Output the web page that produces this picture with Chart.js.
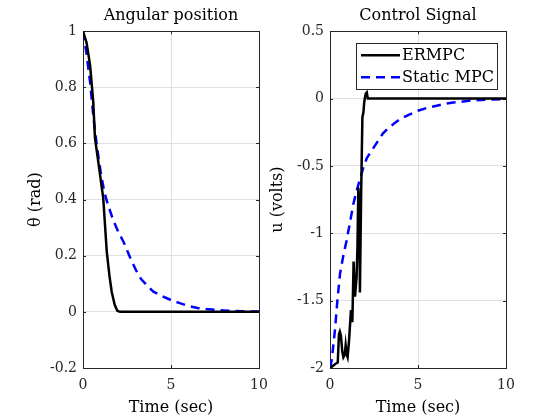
<!DOCTYPE html>
<html>
<head>
<meta charset="utf-8">
<script src="https://cdn.jsdelivr.net/npm/chart.js@4.4.1/dist/chart.umd.min.js"></script>
<style>
  html, body { margin: 0; padding: 0; background: #fff; }
  #wrap { position: relative; width: 560px; height: 420px; overflow: hidden; }
  #thetaChart { position: absolute; left: 0; top: 0; }
  #uChart { position: absolute; left: 262px; top: 0; }
</style>
</head>
<body>
<div id="wrap">
  <canvas id="thetaChart" width="280" height="420"></canvas>
  <canvas id="uChart" width="298" height="420"></canvas>
</div>
<script>
// --- data ---
const xTicks = [0, 5, 10];
const xTickLabels = ['0', '5', '10'];

const thetaTicks = [-0.2, 0, 0.2, 0.4, 0.6, 0.8, 1];
const thetaTickLabels = ['-0.2', '0', '0.2', '0.4', '0.6', '0.8', '1'];
const uTicks = [-2, -1.5, -1, -0.5, 0, 0.5];
const uTickLabels = ['-2', '-1.5', '-1', '-0.5', '0', '0.5'];

// angular position, ERMPC
const thetaErmpcTime = [0, 0.2, 0.4, 0.58, 0.68, 0.9, 1.15, 1.35, 1.5, 1.63, 1.8, 1.95, 2.1, 10];
const thetaErmpc     = [1, 0.96, 0.88, 0.75, 0.62, 0.52, 0.405, 0.215, 0.13, 0.072, 0.025, 0.004, 0, 0];
// angular position, static MPC
const thetaStaticTime = [0, 0.2, 0.4, 0.6, 0.8, 1.0, 1.2, 1.4, 1.7, 2.0, 2.3, 2.7, 3.0, 3.3, 3.7, 4.0, 4.5, 5.0, 5.5, 6.0, 6.5, 7.0, 7.5, 8.0, 9.0, 10];
const thetaStatic     = [1, 0.92, 0.82, 0.69, 0.585, 0.5, 0.43, 0.385, 0.33, 0.285, 0.25, 0.19, 0.15, 0.117, 0.09, 0.072, 0.056, 0.042, 0.031, 0.021, 0.014, 0.01, 0.007, 0.005, 0.002, 0.001];

// control signal, ERMPC
const uErmpcTime = [0, 0.1, 0.3, 0.44, 0.51, 0.56, 0.62, 0.7, 0.76, 0.84, 0.89, 0.95, 1.0, 1.08, 1.19, 1.27, 1.34, 1.42, 1.51, 1.56, 1.61, 1.66, 1.7, 1.77, 1.84, 1.9, 1.95, 2.03, 2.09, 2.15, 10];
const uErmpc     = [-2, -1.99, -1.97, -1.96, -1.75, -1.73, -1.76, -1.88, -1.92, -1.9, -1.83, -1.9, -1.92, -1.8, -1.57, -1.66, -1.21, -1.47, -1.33, -1.1, -0.66, -0.8, -1.44, -0.7, -0.14, -0.1, -0.02, 0.035, 0.045, 0, 0];
// control signal, static MPC
const uStaticTime = [0, 0.1, 0.28, 0.42, 0.57, 0.75, 0.95, 1.15, 1.33, 1.5, 1.7, 1.9, 2.1, 2.3, 2.6, 3.0, 3.3, 3.7, 4.0, 4.5, 5.0, 5.5, 6.0, 6.5, 7.0, 8.0, 9.0, 10];
const uStatic     = [-2, -1.94, -1.72, -1.5, -1.3, -1.17, -1.05, -0.91, -0.78, -0.69, -0.6, -0.51, -0.44, -0.4, -0.34, -0.26, -0.22, -0.18, -0.15, -0.12, -0.09, -0.07, -0.055, -0.04, -0.03, -0.015, -0.007, -0.003];

const pts = (xs, ys) => xs.map((x, i) => ({ x: x, y: ys[i] }));

Chart.defaults.font.family = "'DejaVu Serif', 'Liberation Serif', serif";
Chart.defaults.color = '#262626';

// box round the plot area with small inward ticks, like MATLAB's "box on"
const axesBox = {
  id: 'axesBox',
  beforeDatasetsDraw(chart) {
    const { ctx, chartArea: a, scales } = chart;
    ctx.save();
    ctx.strokeStyle = '#262626';
    ctx.lineWidth = 1;
    ctx.beginPath();
    scales.y.ticks.forEach(t => {
      const y = Math.round(scales.y.getPixelForValue(t.value)) + 0.5;
      ctx.moveTo(a.left, y); ctx.lineTo(a.left + 3, y);
      ctx.moveTo(a.right, y); ctx.lineTo(a.right - 3, y);
    });
    scales.x.ticks.forEach(t => {
      const x = Math.round(scales.x.getPixelForValue(t.value)) + 0.5;
      ctx.moveTo(x, a.bottom); ctx.lineTo(x, a.bottom - 3);
      ctx.moveTo(x, a.top); ctx.lineTo(x, a.top + 3);
    });
    ctx.stroke();
    ctx.strokeRect(Math.round(a.left) + 0.5, Math.round(a.top) + 0.5,
      Math.round(a.right - a.left), Math.round(a.bottom - a.top));
    ctx.restore();
  }
};

// legend boxed inside the top right corner of the plot
const insideLegend = {
  id: 'insideLegend',
  afterDatasetsDraw(chart, args, opts) {
    if (!opts.show) return;
    const { ctx, chartArea: a } = chart;
    const w = 141, h = 46, rowH = 22;
    const x0 = a.right - 9 - w, y0 = a.top + 12;
    ctx.save();
    ctx.fillStyle = '#fff';
    ctx.fillRect(x0, y0, w, h);
    ctx.strokeStyle = '#262626';
    ctx.lineWidth = 1;
    ctx.strokeRect(Math.round(x0) + 0.5, Math.round(y0) + 0.5, w, h);
    ctx.font = "16px 'DejaVu Serif', serif";
    ctx.textBaseline = 'middle';
    chart.data.datasets.forEach((ds, i) => {
      const cy = y0 + 12 + i * rowH;
      ctx.strokeStyle = ds.borderColor;
      ctx.lineWidth = ds.borderWidth;
      ctx.setLineDash(ds.borderDash || []);
      ctx.beginPath();
      ctx.moveTo(x0 + 5, cy); ctx.lineTo(x0 + 44, cy);
      ctx.stroke();
      ctx.setLineDash([]);
      ctx.fillStyle = '#000';
      ctx.fillText(ds.label, x0 + 46, cy + 1);
    });
    ctx.restore();
  }
};

function makeChart(id, cfg) {
  return new Chart(document.getElementById(id), {
    type: 'line',
    data: {
      datasets: [
        { label: 'ERMPC', data: cfg.solid, borderColor: '#000', borderWidth: 2.5,
          pointRadius: 0, tension: 0, fill: false },
        { label: 'Static MPC', data: cfg.dashed, borderColor: '#0000ff', borderWidth: 2.5,
          borderDash: [9, 6], pointRadius: 0, tension: 0, fill: false }
      ]
    },
    options: {
      responsive: false,
      animation: false,
      layout: { padding: { left: 0, right: cfg.padRight, top: 0, bottom: 0 } },
      plugins: {
        legend: { display: false },
        tooltip: { enabled: false },
        title: {
          display: true, text: cfg.title, fullSize: false, color: '#000',
          font: { size: 16, weight: 'normal' }, padding: { top: 6, bottom: 6 }
        },
        insideLegend: { show: cfg.legend }
      },
      scales: {
        x: {
          type: 'linear', min: 0, max: 10,
          afterBuildTicks: s => { s.ticks = xTicks.map(v => ({ value: v })); },
          ticks: { callback: (v, i) => xTickLabels[i], padding: 9, font: { size: 14 }, maxRotation: 0, autoSkip: false },
          grid: { color: '#e0e0e0', drawTicks: false },
          border: { display: false },
          title: { display: true, text: 'Time (sec)', color: '#000', font: { size: 16 }, padding: { top: 0, bottom: 3 } },
          afterFit: s => { s.height = 52; }
        },
        y: {
          type: 'linear', min: cfg.yMin, max: cfg.yMax,
          afterBuildTicks: s => { s.ticks = cfg.yTicks.map(v => ({ value: v })); },
          ticks: { callback: (v, i) => cfg.yTickLabels[i], padding: 6, font: { size: 14 }, autoSkip: false },
          grid: { color: '#e0e0e0', drawTicks: false },
          border: { display: false },
          title: { display: true, text: cfg.yTitle, color: '#000', font: { size: 16 }, padding: { top: cfg.yTitlePad, bottom: 0 } },
          afterFit: s => { s.width = cfg.left; }
        }
      }
    },
    plugins: [axesBox, insideLegend]
  });
}

makeChart('thetaChart', {
  title: 'Angular position', yTitle: 'θ (rad)',
  solid: pts(thetaErmpcTime, thetaErmpc), dashed: pts(thetaStaticTime, thetaStatic),
  yMin: -0.2, yMax: 1, yTicks: thetaTicks, yTickLabels: thetaTickLabels,
  left: 83, padRight: 21, yTitlePad: 26, legend: false
});

makeChart('uChart', {
  title: 'Control Signal', yTitle: 'u (volts)',
  solid: pts(uErmpcTime, uErmpc), dashed: pts(uStaticTime, uStatic),
  yMin: -2, yMax: 0.5, yTicks: uTicks, yTickLabels: uTickLabels,
  left: 68, padRight: 54, yTitlePad: 6, legend: true
});
</script>
</body>
</html>
